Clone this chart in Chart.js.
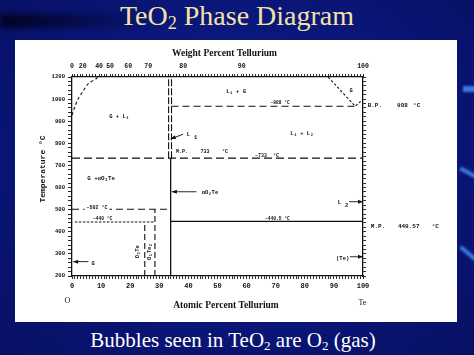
<!DOCTYPE html>
<html><head><meta charset="utf-8">
<script src="https://cdn.jsdelivr.net/npm/chart.js@4.4.1/dist/chart.umd.min.js"></script>
<style>
html,body{margin:0;padding:0;}
body{width:474px;height:355px;overflow:hidden;position:relative;
 background: radial-gradient(ellipse at 50% 45%, #0d1d8c 0%, #0a167a 55%, #071062 100%);
 font-family:"Liberation Serif","Times New Roman",serif;}
#title{position:absolute;left:0;top:-1px;width:474px;text-align:center;color:#f2e3a4;font-size:28px;line-height:34px;white-space:nowrap;}
#title sub{font-size:65%;vertical-align:-0.22em;line-height:0;}
#caption sub{font-size:62%;vertical-align:-0.22em;line-height:0;}
#panel{position:absolute;left:15px;top:40px;width:442px;height:282px;background:#fff;}
#caption{position:absolute;left:-4px;top:326px;width:474px;text-align:center;color:#fff;font-size:21px;line-height:28px;white-space:nowrap;}
.deco{position:absolute;background:#3d78e0;filter:blur(1px);}
.shade{position:absolute;left:0;top:14px;width:150px;height:14px;background:linear-gradient(to right,rgba(0,0,20,0.85),rgba(0,0,30,0));filter:blur(3px);}
</style>
</head><body>
<div class="shade"></div>
<div class="deco" style="left:463px;top:86px;width:14px;height:6px;"></div>
<div class="deco" style="left:459px;top:171px;width:20px;height:4px;transform:rotate(28deg);"></div>
<div class="deco" style="left:458px;top:252px;width:22px;height:4px;transform:rotate(40deg);"></div>
<div id="title">TeO<sub>2</sub> Phase Diagram</div>
<div id="panel"><canvas id="c" width="442" height="282"></canvas></div>
<div id="caption">Bubbles seen in TeO<sub>2</sub> are O<sub>2</sub> (gas)</div>
<script>
// ---------- axis ticks ----------
const xMajorValues = [0,10,20,30,40,50,60,70,80,90,100];
const xMajorLabels = ['0','10','20','30','40','50','60','70','80','90','100'];
const yMajorValues = [200,300,400,500,600,700,800,900,1000,1100];
const yMajorLabels = ['200','300','400','500','600','700','800','900','1000','1200'];
const topMajorPos = [0,3.7,9.3,13.1,19.3,26.2,38.2,58.3,100];          // atomic % position
const topMajorLabels = ['0','20','40','50','60','70','80','90','100']; // weight % Te

// ---------- phase boundary lines (x = atomic % Te, T = °C) ----------
const gasLeftX = [0, 1.0, 2.2, 3.7, 5.6, 8.5, 9.0];
const gasLeftT = [928, 966, 1004, 1034, 1070, 1094, 1100];
const gasRightX = [88, 97.3, 99.2];
const gasRightT = [1100, 968, 990];
const bpLineX = [34.2, 97.3];
const bpLineT = [968, 968];
const monoLineX = [0, 100];
const monoLineT = [733, 733];
const teo2DashAX = [33.2, 33.2];
const teo2DashAT = [733, 1100];
const teo2DashBX = [34.2, 34.2];
const teo2DashBT = [733, 1100];
const teo2SolidX = [33.9, 33.9];
const teo2SolidT = [200, 733];
const line502X = [0, 33.9];
const line502T = [502, 502];
const line440X = [1, 28.5];
const line440T = [444, 444];
const o3teX = [25, 25];
const o3teT = [200, 444];
const o5te2X = [28.5, 28.5];
const o5te2T = [200, 502];
const eutX = [33.9, 100];
const eutT = [447, 447];

// ---------- arrows ----------
const arrowL1X = [38.2, 33.9];   const arrowL1T = [841, 820];
const arrowAlphaX = [42.8, 34.3]; const arrowAlphaT = [581, 581];
const arrowL2X = [95.2, 100];    const arrowL2T = [536, 536];
const arrowTeX = [95.5, 100];    const arrowTeT = [287, 287];
const arrowGX = [5.6, 0.4];      const arrowGT = [265, 265];

// ---------- labels ----------
const labelText = ['G + L₁','L₁ + G','~988 °C','G','L₁ + L₂','M.P.','733','°C','~733  °C','L','1',
  'G +αO₂Te','αO₂Te','~502 °C','~440 °C','O₃Te','O₅Te₂','L','2','~449.5 °C','(Te)','G'];
const labelX = [16.2,56.4,71.5,95.9,79,37.8,45.7,52.6,67,40.0,42.5,10,47.4,8.6,10.5,22.4,26.6,91.9,94.4,70.6,93,7.3];
const labelT = [923,1032,982,1038,842,761,761,761,745,838,826,639,578,509,458,310,310,532,517,458,280,254];
const sideText = ['B.P.','988','°C','M.P.','449.57','°C'];
const sideX = [101.6,111.7,117.2,102.7,112,123.6];
const sideT = [973,973,973,423,423,423];

// styles for labels (kept apart from the data)
const labelSize = [5.5,5.5,4.6,5.5,5.5,5,5,5,5,5.5,5.5,5.8,5.5,5,4.6,5.5,5.5,5.5,5.5,4.6,5.5,5.5];
const labelRot = labelText.map((t,i)=> (i===15||i===16) ? -Math.PI/2 : 0);
const labelBg = labelText.map((t,i)=> i===13);

const MONO = '"Liberation Mono","DejaVu Sans Mono",monospace';
const SERIF = '"Liberation Serif","Times New Roman",serif';

function pts(xs, ts){ return xs.map((v,i)=>({x:v, y:ts[i]})); }
function ln(xs, ts, dash, w, extra){
  return Object.assign({data: pts(xs, ts), borderColor:'#111', borderWidth: w||1.1, borderDash: dash||[],
    pointRadius:0, showLine:true, fill:false, tension:0}, extra||{});
}

const datasets = [
  ln(gasLeftX, gasLeftT, [3,2.5], 1.1, {tension:0.3}),
  ln(gasRightX, gasRightT, [2.5,2], 1.1),
  ln(bpLineX, bpLineT, [7,4], 1.1),
  ln(monoLineX, monoLineT, [8,4], 1.2),
  ln(teo2DashAX, teo2DashAT, [7,2], 1.1),
  ln(teo2DashBX, teo2DashBT, [7,2], 1.1),
  ln(teo2SolidX, teo2SolidT, [], 1.3),
  ln(line502X, line502T, [7,4], 1.1),
  ln(line440X, line440T, [2.5,1.5], 1.1),
  ln(o3teX, o3teT, [6,3], 1.1),
  ln(o5te2X, o5te2T, [6,3], 1.1),
  ln(eutX, eutT, [], 1.3),
  ln(arrowL1X, arrowL1T, [], 0.9, {arrow:true}),
  ln(arrowAlphaX, arrowAlphaT, [], 0.9, {arrow:true}),
  ln(arrowL2X, arrowL2T, [], 0.9, {arrow:true}),
  ln(arrowTeX, arrowTeT, [], 0.9, {arrow:true}),
  ln(arrowGX, arrowGT, [], 0.9, {arrow:true})
];

const arrowHeads = {id:'arrowHeads', afterDatasetsDraw(chart){
  const ctx = chart.ctx; ctx.save(); ctx.fillStyle = '#111';
  chart.data.datasets.forEach((ds,i)=>{
    if(!ds.arrow) return;
    const m = chart.getDatasetMeta(i).data;
    const a = m[m.length-2], b = m[m.length-1];
    const ang = Math.atan2(b.y-a.y, b.x-a.x), L = 5, W = 2;
    ctx.beginPath();
    ctx.moveTo(b.x, b.y);
    ctx.lineTo(b.x - L*Math.cos(ang) + W*Math.sin(ang), b.y - L*Math.sin(ang) - W*Math.cos(ang));
    ctx.lineTo(b.x - L*Math.cos(ang) - W*Math.sin(ang), b.y - L*Math.sin(ang) + W*Math.cos(ang));
    ctx.closePath(); ctx.fill();
  });
  ctx.restore();
}};

const annotations = {id:'annotations', afterDatasetsDraw(chart){
  const {ctx, scales:{x, y}} = chart;
  ctx.save(); ctx.fillStyle = '#111'; ctx.textBaseline = 'middle';
  labelText.forEach((t,i)=>{
    const px = x.getPixelForValue(labelX[i]), py = y.getPixelForValue(labelT[i]);
    ctx.font = 'bold ' + labelSize[i] + 'px ' + MONO;
    ctx.save(); ctx.translate(px, py); ctx.rotate(labelRot[i]);
    ctx.textAlign = 'center';
    if(labelBg[i]){ const w = ctx.measureText(t).width; ctx.fillStyle='#fff'; ctx.fillRect(-w/2-2, -3, w+4, 6); ctx.fillStyle='#111'; }
    ctx.fillText(t, 0, 0);
    ctx.restore();
  });
  ctx.textAlign = 'left';
  ctx.font = 'bold 6px ' + MONO;
  sideText.forEach((t,i)=>{
    ctx.fillText(t, x.getPixelForValue(sideX[i]), y.getPixelForValue(sideT[i]));
  });
  // axis titles and end-member symbols
  ctx.textAlign = 'center';
  ctx.font = 'bold 9.5px ' + SERIF;
  ctx.fillText('Weight Percent Tellurium', 209.5, 13.5);
  ctx.fillText('Atomic Percent Tellurium', 211, 266);
  ctx.font = '8px ' + SERIF;
  ctx.fillText('O', x.getPixelForValue(-1.6), 261);
  ctx.fillText('Te', x.getPixelForValue(99.8), 262.5);
  ctx.font = 'bold 8px ' + MONO;
  ctx.save(); ctx.translate(28, 129); ctx.rotate(-Math.PI/2);
  ctx.fillText('Temperature °C', 0, 0);
  ctx.restore();
  ctx.restore();
}};

function minorPlusMajor(min, max, step, majors){
  const t = majors.slice();
  for(let v=min; v<=max+1e-9; v+=step){
    if(!majors.some(m=>Math.abs(m-v) < step*0.5)) t.push(+v.toFixed(4));
  }
  return t.sort((a,b)=>a-b).map(v=>({value:v}));
}

const tickFont = {family: MONO, weight:'bold', size:7};
new Chart(document.getElementById('c'), {
  type:'scatter',
  data:{datasets},
  options:{
    responsive:false, animation:false, devicePixelRatio:1,
    layout:{padding:0},
    plugins:{legend:{display:false}, tooltip:{enabled:false}},
    scales:{
      x:{type:'linear', position:'bottom', min:0, max:100,
        afterBuildTicks:s=>{ s.ticks = minorPlusMajor(0,100,1,xMajorValues); },
        afterFit:s=>{ s.height = 46; },
        ticks:{autoSkip:false, maxRotation:0, color:'#111', font:tickFont, padding:3,
          callback:v=>{ const i = xMajorValues.indexOf(v); return i>=0 ? xMajorLabels[i] : ''; }},
        grid:{drawOnChartArea:false, drawTicks:true, tickLength:3, tickColor:'#111', tickWidth:0.9},
        border:{display:true, color:'#111', width:1.3}},
      x2:{type:'linear', position:'top', min:0, max:100,
        afterBuildTicks:s=>{ s.ticks = minorPlusMajor(0,100,1,topMajorPos); },
        afterFit:s=>{ s.height = 37; },
        ticks:{autoSkip:false, maxRotation:0, color:'#111', font:{family:MONO, weight:'bold', size:6.5}, padding:4,
          callback:v=>{ const i = topMajorPos.indexOf(v); return i>=0 ? topMajorLabels[i] : ''; }},
        grid:{drawOnChartArea:false, drawTicks:true, tickLength:3, tickColor:'#111', tickWidth:0.9},
        border:{display:true, color:'#111', width:1.3}},
      y:{type:'linear', position:'left', min:200, max:1100,
        afterBuildTicks:s=>{ s.ticks = minorPlusMajor(200,1100,20,yMajorValues); },
        afterFit:s=>{ s.width = 57; },
        ticks:{autoSkip:false, color:'#111', font:{family:MONO, weight:'bold', size:5.6}, padding:3,
          callback:v=>{ const i = yMajorValues.indexOf(v); return i>=0 ? yMajorLabels[i] : ''; }},
        grid:{drawOnChartArea:false, drawTicks:true, tickLength:4, tickColor:'#111', tickWidth:0.9},
        border:{display:true, color:'#111', width:1.3}},
      y2:{type:'linear', position:'right', min:200, max:1100,
        afterBuildTicks:s=>{ s.ticks = minorPlusMajor(200,1100,20,yMajorValues); },
        afterFit:s=>{ s.width = 94; },
        ticks:{display:false},
        grid:{drawOnChartArea:false, drawTicks:true, tickLength:3, tickColor:'#111', tickWidth:0.9},
        border:{display:true, color:'#111', width:1.3}}
    }
  },
  plugins:[arrowHeads, annotations]
});
</script>
</body></html>
